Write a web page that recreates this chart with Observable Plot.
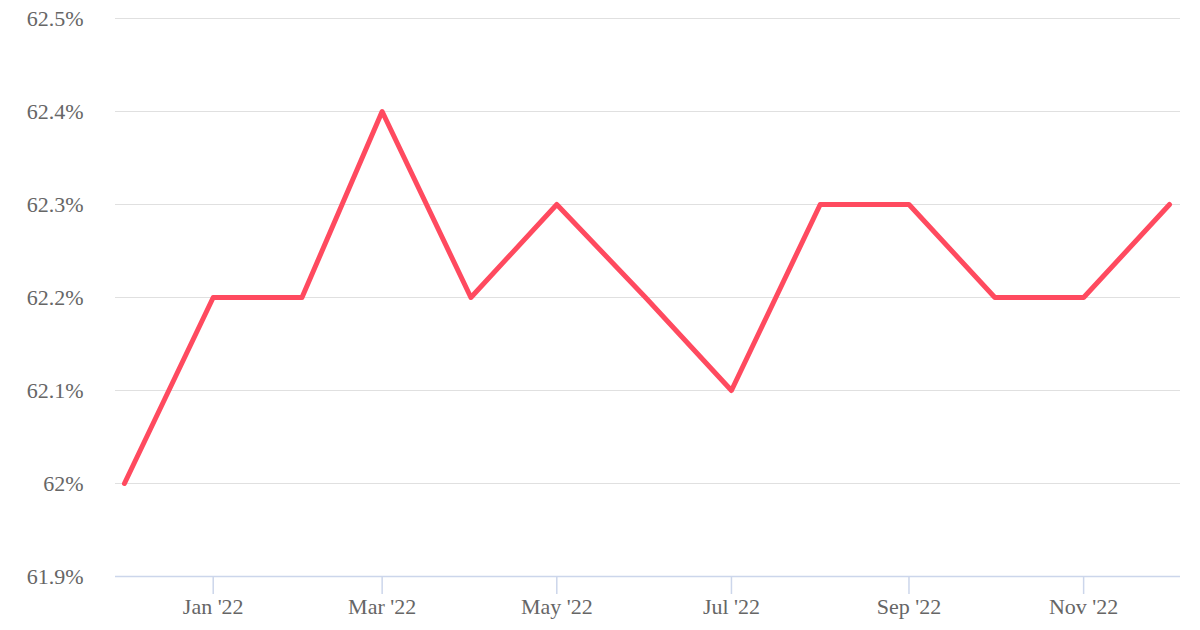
<!DOCTYPE html>
<html>
<head>
<meta charset="utf-8">
<script src="https://cdn.jsdelivr.net/npm/d3@7"></script>
<script src="https://cdn.jsdelivr.net/npm/@observablehq/plot@0.6"></script>
<style>
  html, body { margin: 0; padding: 0; background: #fff; }
  #chart { width: 1200px; height: 630px; }
  #chart svg text { font-family: 'Liberation Serif', 'Times New Roman', serif !important; }
</style>
</head>
<body>
<div id="chart"></div>
<script>
const months = ["2021-12", "2022-01", "2022-02", "2022-03", "2022-04", "2022-05", "2022-06",
                "2022-07", "2022-08", "2022-09", "2022-10", "2022-11", "2022-12"];
const values = [62.0, 62.2, 62.2, 62.4, 62.2, 62.3, 62.2, 62.1, 62.3, 62.3, 62.2, 62.2, 62.3];
const yTicks = [61.9, 62.0, 62.1, 62.2, 62.3, 62.4, 62.5];
const xTickMonths = ["2022-01", "2022-03", "2022-05", "2022-07", "2022-09", "2022-11"];

const parse = d3.utcParse("%Y-%m");
const data = months.map((m, i) => ({date: parse(m), value: values[i]}));
const xTicks = xTickMonths.map(parse);
const serif = "'Liberation Serif', 'Times New Roman', serif";

const chart = Plot.plot({
  width: 1200,
  height: 630,
  marginTop: 18,
  marginBottom: 54,
  marginLeft: 115,
  marginRight: 20,
  style: {fontFamily: serif, fontSize: "22px", color: "#666", background: "#fff"},
  x: {type: "utc", domain: [new Date(Date.UTC(2021, 10, 27, 21)), new Date(Date.UTC(2022, 11, 4, 20))]},
  y: {domain: [61.9, 62.5]},
  marks: [
    Plot.gridY(yTicks.slice(1), {stroke: "#e0e0e0", strokeOpacity: 1, strokeWidth: 1.2}),
    Plot.ruleY([61.9], {stroke: "#ccd6eb", strokeWidth: 1.5}),
    Plot.axisY(yTicks, {tickSize: 0, tickPadding: 32, tickFormat: d => (+d.toFixed(1)) + "%", fill: "#666", fontFamily: serif, fontSize: 22, label: null}),
    Plot.axisX(xTicks, {tickSize: 18, tickPadding: 4, stroke: "#ccd6eb", strokeWidth: 1.5, tickFormat: d3.utcFormat("%b '%y"), fill: "#666", fontFamily: serif, fontSize: 22, label: null}),
    Plot.line(data, {x: "date", y: "value", stroke: "#ff4a5f", strokeWidth: 5, strokeLinejoin: "round", strokeLinecap: "round", curve: "linear"})
  ]
});
document.getElementById("chart").appendChild(chart);
</script>
</body>
</html>
